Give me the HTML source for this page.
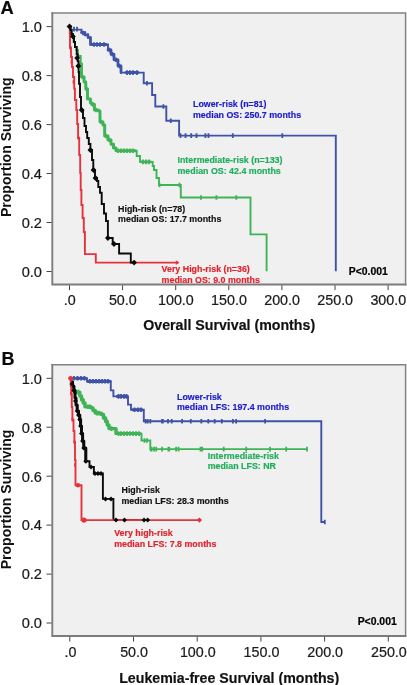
<!DOCTYPE html>
<html lang="en"><head><meta charset="utf-8"><title>Survival curves</title>
<style>
html,body{margin:0;padding:0;background:#fff;}
svg{display:block;font-family:"Liberation Sans",Arial,sans-serif;}
.c{fill:none;stroke-width:1.9;stroke-linejoin:miter;}
.t{fill:none;stroke-width:1.8;}
</style></head><body>
<svg width="407" height="685" viewBox="0 0 407 685">
<rect width="407" height="685" fill="#fff"/>
<rect x="52.3" y="13.0" width="353.3" height="271.5" fill="#f0f0f0"/>
<path d="M51.4,13.1 H405.6 V285.4" fill="none" stroke="#828282" stroke-width="1.5" stroke-linejoin="miter"/>
<path d="M52.3,12.4 V284.5 H406.3" fill="none" stroke="#7c7c7c" stroke-width="1.9" stroke-linejoin="miter"/>
<path d="M46.5,271.5 H51.5" stroke="#444" stroke-width="1"/>
<text x="42.0" y="276.8" fill="#1a1a1a" font-size="14.6" font-weight="normal" text-anchor="end" stroke="#1a1a1a" stroke-width="0.22">0.0</text>
<path d="M46.5,222.5 H51.5" stroke="#444" stroke-width="1"/>
<text x="42.0" y="227.8" fill="#1a1a1a" font-size="14.6" font-weight="normal" text-anchor="end" stroke="#1a1a1a" stroke-width="0.22">0.2</text>
<path d="M46.5,173.5 H51.5" stroke="#444" stroke-width="1"/>
<text x="42.0" y="178.8" fill="#1a1a1a" font-size="14.6" font-weight="normal" text-anchor="end" stroke="#1a1a1a" stroke-width="0.22">0.4</text>
<path d="M46.5,124.6 H51.5" stroke="#444" stroke-width="1"/>
<text x="42.0" y="129.9" fill="#1a1a1a" font-size="14.6" font-weight="normal" text-anchor="end" stroke="#1a1a1a" stroke-width="0.22">0.6</text>
<path d="M46.5,75.6 H51.5" stroke="#444" stroke-width="1"/>
<text x="42.0" y="80.9" fill="#1a1a1a" font-size="14.6" font-weight="normal" text-anchor="end" stroke="#1a1a1a" stroke-width="0.22">0.8</text>
<path d="M46.5,26.6 H51.5" stroke="#444" stroke-width="1"/>
<text x="42.0" y="31.9" fill="#1a1a1a" font-size="14.6" font-weight="normal" text-anchor="end" stroke="#1a1a1a" stroke-width="0.22">1.0</text>
<path d="M69.5,285.3 V290.1" stroke="#444" stroke-width="1"/>
<text x="69.7" y="305.3" fill="#1a1a1a" font-size="14.3" font-weight="normal" text-anchor="middle" stroke="#1a1a1a" stroke-width="0.22">.0</text>
<path d="M122.6,285.3 V290.1" stroke="#444" stroke-width="1"/>
<text x="122.8" y="305.3" fill="#1a1a1a" font-size="14.3" font-weight="normal" text-anchor="middle" stroke="#1a1a1a" stroke-width="0.22">50.0</text>
<path d="M175.7,285.3 V290.1" stroke="#444" stroke-width="1"/>
<text x="175.9" y="305.3" fill="#1a1a1a" font-size="14.3" font-weight="normal" text-anchor="middle" stroke="#1a1a1a" stroke-width="0.22">100.0</text>
<path d="M228.8,285.3 V290.1" stroke="#444" stroke-width="1"/>
<text x="229.0" y="305.3" fill="#1a1a1a" font-size="14.3" font-weight="normal" text-anchor="middle" stroke="#1a1a1a" stroke-width="0.22">150.0</text>
<path d="M281.9,285.3 V290.1" stroke="#444" stroke-width="1"/>
<text x="282.1" y="305.3" fill="#1a1a1a" font-size="14.3" font-weight="normal" text-anchor="middle" stroke="#1a1a1a" stroke-width="0.22">200.0</text>
<path d="M335.0,285.3 V290.1" stroke="#444" stroke-width="1"/>
<text x="335.2" y="305.3" fill="#1a1a1a" font-size="14.3" font-weight="normal" text-anchor="middle" stroke="#1a1a1a" stroke-width="0.22">250.0</text>
<path d="M388.1,285.3 V290.1" stroke="#444" stroke-width="1"/>
<text x="388.3" y="305.3" fill="#1a1a1a" font-size="14.3" font-weight="normal" text-anchor="middle" stroke="#1a1a1a" stroke-width="0.22">300.0</text>
<text x="229.2" y="330.2" fill="#111" font-size="14.2" font-weight="bold" text-anchor="middle" stroke="#111" stroke-width="0.18">Overall Survival (months)</text>
<text transform="translate(11.2,147.2) rotate(-90)" fill="#111" font-size="14.05" font-weight="bold" text-anchor="middle">Proportion Surviving</text>
<text x="0.6" y="13.6" fill="#0a0a0a" font-size="18.3" font-weight="bold" text-anchor="start" stroke="#0a0a0a" stroke-width="0.18">A</text>
<text x="348.8" y="274.5" fill="#000" font-size="10.4" font-weight="bold" text-anchor="start" stroke="#000" stroke-width="0.2">P&lt;0.001</text>
<rect x="52.3" y="364.6" width="353.3" height="271.4" fill="#f0f0f0"/>
<path d="M51.4,364.7 H405.6 V636.9" fill="none" stroke="#828282" stroke-width="1.5" stroke-linejoin="miter"/>
<path d="M52.3,364.0 V636.0 H406.3" fill="none" stroke="#7c7c7c" stroke-width="1.9" stroke-linejoin="miter"/>
<path d="M46.5,623.0 H51.5" stroke="#444" stroke-width="1"/>
<text x="42.0" y="628.3" fill="#1a1a1a" font-size="14.6" font-weight="normal" text-anchor="end" stroke="#1a1a1a" stroke-width="0.22">0.0</text>
<path d="M46.5,574.1 H51.5" stroke="#444" stroke-width="1"/>
<text x="42.0" y="579.4" fill="#1a1a1a" font-size="14.6" font-weight="normal" text-anchor="end" stroke="#1a1a1a" stroke-width="0.22">0.2</text>
<path d="M46.5,525.1 H51.5" stroke="#444" stroke-width="1"/>
<text x="42.0" y="530.4" fill="#1a1a1a" font-size="14.6" font-weight="normal" text-anchor="end" stroke="#1a1a1a" stroke-width="0.22">0.4</text>
<path d="M46.5,476.2 H51.5" stroke="#444" stroke-width="1"/>
<text x="42.0" y="481.5" fill="#1a1a1a" font-size="14.6" font-weight="normal" text-anchor="end" stroke="#1a1a1a" stroke-width="0.22">0.6</text>
<path d="M46.5,427.2 H51.5" stroke="#444" stroke-width="1"/>
<text x="42.0" y="432.5" fill="#1a1a1a" font-size="14.6" font-weight="normal" text-anchor="end" stroke="#1a1a1a" stroke-width="0.22">0.8</text>
<path d="M46.5,378.3 H51.5" stroke="#444" stroke-width="1"/>
<text x="42.0" y="383.6" fill="#1a1a1a" font-size="14.6" font-weight="normal" text-anchor="end" stroke="#1a1a1a" stroke-width="0.22">1.0</text>
<path d="M69.8,636.8 V641.6" stroke="#444" stroke-width="1"/>
<text x="70.4" y="656.8" fill="#1a1a1a" font-size="14.3" font-weight="normal" text-anchor="middle" stroke="#1a1a1a" stroke-width="0.22">.0</text>
<path d="M133.5,636.8 V641.6" stroke="#444" stroke-width="1"/>
<text x="134.1" y="656.8" fill="#1a1a1a" font-size="14.3" font-weight="normal" text-anchor="middle" stroke="#1a1a1a" stroke-width="0.22">50.0</text>
<path d="M197.2,636.8 V641.6" stroke="#444" stroke-width="1"/>
<text x="197.8" y="656.8" fill="#1a1a1a" font-size="14.3" font-weight="normal" text-anchor="middle" stroke="#1a1a1a" stroke-width="0.22">100.0</text>
<path d="M260.9,636.8 V641.6" stroke="#444" stroke-width="1"/>
<text x="261.5" y="656.8" fill="#1a1a1a" font-size="14.3" font-weight="normal" text-anchor="middle" stroke="#1a1a1a" stroke-width="0.22">150.0</text>
<path d="M324.6,636.8 V641.6" stroke="#444" stroke-width="1"/>
<text x="325.2" y="656.8" fill="#1a1a1a" font-size="14.3" font-weight="normal" text-anchor="middle" stroke="#1a1a1a" stroke-width="0.22">200.0</text>
<path d="M388.3,636.8 V641.6" stroke="#444" stroke-width="1"/>
<text x="388.9" y="656.8" fill="#1a1a1a" font-size="14.3" font-weight="normal" text-anchor="middle" stroke="#1a1a1a" stroke-width="0.22">250.0</text>
<text x="229.2" y="682.5" fill="#111" font-size="14.2" font-weight="bold" text-anchor="middle" stroke="#111" stroke-width="0.18">Leukemia-free Survival (months)</text>
<text transform="translate(11.2,499.5) rotate(-90)" fill="#111" font-size="14.05" font-weight="bold" text-anchor="middle">Proportion Surviving</text>
<text x="1.4" y="364.9" fill="#0a0a0a" font-size="18" font-weight="bold" text-anchor="start" stroke="#0a0a0a" stroke-width="0.18">B</text>
<text x="357.7" y="624.5" fill="#000" font-size="10.4" font-weight="bold" text-anchor="start" stroke="#000" stroke-width="0.2">P&lt;0.001</text>
<path class="c" stroke="#3f53a6" d="M69.5,26.5 H70.5 V29.6 H81.5 V32.5 H85.0 V35.0 H88.0 V37.5 H90.5 V44.5 H108.0 V50.0 H111.0 V54.3 H114.0 V59.8 H118.0 V66.0 H121.0 V72.6 H143.7 V83.2 H152.1 V95.0 H155.3 V106.5 H166.3 V120.8 H179.1 V135.6 H335.8 V271.2"/>
<path class="t" stroke="#3f53a6" d="M74.0,26.8 v4.6 M77.0,26.8 v4.6 M83.0,30.7 v4.6 M88.0,33.3 v4.6 M94.0,42.2 v4.6 M97.0,42.2 v4.6 M100.0,42.2 v4.6 M104.0,42.2 v4.6 M109.5,47.7 v4.6 M112.5,52.0 v4.6 M116.0,57.5 v4.6 M119.5,63.7 v4.6 M127.0,70.3 v4.6 M130.0,70.3 v4.6 M133.0,70.3 v4.6 M137.0,70.3 v4.6 M147.0,80.9 v4.6 M163.4,104.2 v4.6 M170.8,118.5 v4.6 M180.5,133.3 v4.6 M185.5,133.3 v4.6 M191.2,133.3 v4.6 M196.5,133.3 v4.6 M205.4,133.3 v4.6 M208.5,133.3 v4.6 M232.8,133.3 v4.6 M282.3,133.3 v4.6"/>
<path fill="none" stroke="#3f53a6" stroke-width="3.0" stroke-linejoin="round" stroke-linecap="round" d="M92.0,44.5 H106.0 V44.5"/>
<path fill="none" stroke="#3f53a6" stroke-width="3.0" stroke-linejoin="round" stroke-linecap="round" d="M126.0,72.6 H138.0 V72.6"/>
<path fill="none" stroke="#3f53a6" stroke-width="2.8" stroke-linejoin="round" stroke-linecap="round" d="M108.0,50.0 H111.0 V54.3 H114.0 V59.8 H118.0 V66.0 H121.0 V72.6"/>
<path fill="none" stroke="#3f53a6" stroke-width="2.6" stroke-linejoin="round" stroke-linecap="round" d="M81.5,32.5 H85.0 V35.0 H88.0 V37.5 H90.5 V44.5"/>
<path class="c" stroke="#3fb457" d="M69.5,26.5 H70.5 V30.0 H72.0 V36.0 H73.5 V42.0 H75.0 V47.0 H76.4 V50.0 H78.0 V56.0 H80.7 V64.0 H81.5 V77.0 H84.1 V82.0 H85.8 V89.0 H87.5 V99.0 H90.4 V103.0 H91.8 V104.5 H94.4 V110.0 H98.3 V111.0 H100.0 V122.0 H103.0 V125.0 H104.7 V136.0 H108.0 V140.0 H111.0 V144.3 H113.5 V148.0 H116.0 V150.7 H136.7 V156.0 H140.0 V161.9 H152.7 V166.0 H154.0 V170.0 H156.5 V178.0 H159.0 V185.0 H180.8 V197.5 H250.5 V234.4 H266.6 V271.2"/>
<path class="t" stroke="#3fb457" d="M82.5,74.7 v4.6 M86.5,86.7 v4.6 M93.0,102.2 v4.6 M96.0,107.7 v4.6 M101.5,119.7 v4.6 M106.0,133.7 v4.6 M109.5,137.7 v4.6 M118.0,148.4 v4.6 M121.0,148.4 v4.6 M124.0,148.4 v4.6 M127.0,148.4 v4.6 M130.0,148.4 v4.6 M133.0,148.4 v4.6 M143.0,159.6 v4.6 M146.0,159.6 v4.6 M149.0,159.6 v4.6 M159.5,182.7 v4.6 M179.5,182.7 v4.6 M201.0,195.2 v4.6 M216.4,195.2 v4.6 M236.3,195.2 v4.6"/>
<path fill="none" stroke="#3fb457" stroke-width="2.9" stroke-linejoin="round" stroke-linecap="round" d="M80.7,64.0 H81.5 V77.0 H84.1 V82.0 H85.8 V89.0 H87.5 V99.0 H90.4 V103.0 H91.8 V104.5 H94.4 V110.0 H98.3 V111.0 H100.0 V122.0 H103.0 V125.0 H104.7 V136.0 H108.0 V140.0 H111.0 V144.3 H113.5 V148.0 H116.0 V150.7"/>
<path fill="none" stroke="#3fb457" stroke-width="3.0" stroke-linejoin="round" stroke-linecap="round" d="M117.0,150.7 H135.0 V150.7"/>
<path fill="none" stroke="#3fb457" stroke-width="2.8" stroke-linejoin="round" stroke-linecap="round" d="M141.5,161.9 H150.5 V161.9"/>
<path class="c" stroke="#e6323c" stroke-width="1.65" d="M69.5,26.5 H69.8 V33.0 H70.0 V47.5 H71.0 V57.0 H72.0 V67.0 H73.0 V77.0 H74.2 V88.8 H74.9 V100.0 H76.3 V110.0 H77.2 V124.0 H78.1 V138.0 H79.2 V155.0 H80.2 V173.0 H80.7 V190.0 H81.4 V205.0 H82.6 V218.0 H83.8 V232.0 H84.9 V254.1 H95.8 V262.6 H178.5"/>
<path class="t" stroke="#e6323c" d="M70.0,45.7 v3.6 M71.5,60.2 v3.6 M73.5,80.2 v3.6 M78.5,136.2 v3.6"/>
<path fill="#e6323c" d="M175.8,260.2 L179.3,262.6 L175.8,265 Z"/>
<path class="c" stroke="#0a0a0a" d="M69.5,26.5 H70.5 V30.0 H71.5 V34.0 H72.9 V36.4 H74.0 V42.0 H75.0 V47.0 H76.7 V54.4 H77.7 V61.3 H78.6 V72.0 H79.0 V83.7 H80.0 V97.0 H81.0 V110.0 H83.0 V118.0 H84.5 V126.0 H86.0 V132.0 H87.2 V138.0 H88.8 V144.0 H90.4 V150.0 H92.0 V160.0 H93.3 V170.0 H95.0 V178.0 H97.0 V181.0 H98.3 V187.0 H100.0 V192.8 H101.7 V204.0 H104.0 V213.5 H106.0 V221.0 H107.9 V238.0 H112.7 V244.0 H119.1 V253.5 H130.8 V262.6 H134.1"/>
<path fill="#0a0a0a" d="M69.5,23.6 l2.9,2.9 l-2.9,2.9 l-2.9,-2.9 Z M72.9,33.5 l2.9,2.9 l-2.9,2.9 l-2.9,-2.9 Z M77.2,55.1 l2.9,2.9 l-2.9,2.9 l-2.9,-2.9 Z M78.3,63.1 l2.9,2.9 l-2.9,2.9 l-2.9,-2.9 Z M81.7,107.1 l2.9,2.9 l-2.9,2.9 l-2.9,-2.9 Z M90.4,147.1 l2.9,2.9 l-2.9,2.9 l-2.9,-2.9 Z M93.5,167.1 l2.9,2.9 l-2.9,2.9 l-2.9,-2.9 Z M95.5,175.1 l2.9,2.9 l-2.9,2.9 l-2.9,-2.9 Z M107.9,235.1 l2.9,2.9 l-2.9,2.9 l-2.9,-2.9 Z M114.0,241.1 l2.9,2.9 l-2.9,2.9 l-2.9,-2.9 Z M134.1,259.7 l2.9,2.9 l-2.9,2.9 l-2.9,-2.9 Z"/>
<path class="c" stroke="#3f53a6" d="M70.3,378.3 H87.0 V381.3 H110.8 V390.4 H113.4 V396.4 H128.0 V404.6 H131.0 V409.7 H143.8 V421.3 H321.3 V522.0 H324.8"/>
<path class="t" stroke="#3f53a6" d="M74.0,376.0 v4.6 M77.5,376.0 v4.6 M81.0,376.0 v4.6 M84.5,376.0 v4.6 M90.0,379.0 v4.6 M93.0,379.0 v4.6 M96.0,379.0 v4.6 M99.0,379.0 v4.6 M102.0,379.0 v4.6 M105.0,379.0 v4.6 M108.0,379.0 v4.6 M118.5,394.1 v4.6 M121.0,394.1 v4.6 M124.0,394.1 v4.6 M126.5,394.1 v4.6 M134.5,407.4 v4.6 M138.0,407.4 v4.6 M141.0,407.4 v4.6 M145.6,419.0 v4.6 M147.7,419.0 v4.6 M150.3,419.0 v4.6 M162.0,419.0 v4.6 M162.8,419.0 v4.6 M168.0,419.0 v4.6 M171.7,419.0 v4.6 M182.1,419.0 v4.6 M190.8,419.0 v4.6 M201.3,419.0 v4.6 M208.3,419.0 v4.6 M214.7,419.0 v4.6 M221.8,419.0 v4.6 M232.9,419.0 v4.6 M236.1,419.0 v4.6 M265.1,419.0 v4.6 M324.8,519.7 v4.6"/>
<path fill="none" stroke="#3f53a6" stroke-width="3.2" stroke-linejoin="round" stroke-linecap="round" d="M76.5,378.3 H79.0 V378.3"/>
<path fill="none" stroke="#3f53a6" stroke-width="3.2" stroke-linejoin="round" stroke-linecap="round" d="M82.5,378.3 H85.0 V378.3"/>
<path fill="none" stroke="#3f53a6" stroke-width="3.2" stroke-linejoin="round" stroke-linecap="round" d="M88.0,381.3 H109.5 V381.3"/>
<path fill="none" stroke="#3f53a6" stroke-width="3.2" stroke-linejoin="round" stroke-linecap="round" d="M117.5,396.4 H127.0 V396.4"/>
<path fill="none" stroke="#3f53a6" stroke-width="3.0" stroke-linejoin="round" stroke-linecap="round" d="M133.0,409.7 H142.0 V409.7"/>
<path class="c" stroke="#3fb457" d="M70.3,378.3 H71.3 V382.0 H72.9 V387.0 H74.6 V392.1 H79.8 V396.0 H81.5 V399.8 H83.2 V403.0 H85.0 V406.7 H91.0 V407.9 H93.0 V410.5 H95.3 V413.1 H101.3 V414.5 H103.5 V418.0 H105.6 V421.4 H107.3 V425.0 H109.0 V428.6 H116.0 V433.6 H141.5 V440.5 H150.3 V449.1 H307.0"/>
<path class="t" stroke="#3fb457" d="M76.5,389.8 v4.6 M78.5,389.8 v4.6 M82.5,397.5 v4.6 M88.0,404.4 v4.6 M90.0,404.4 v4.6 M97.0,410.8 v4.6 M99.0,410.8 v4.6 M104.5,415.7 v4.6 M106.5,419.1 v4.6 M108.2,422.7 v4.6 M111.5,426.3 v4.6 M118.5,431.3 v4.6 M121.0,431.3 v4.6 M124.0,431.3 v4.6 M127.0,431.3 v4.6 M130.0,431.3 v4.6 M133.0,431.3 v4.6 M136.0,431.3 v4.6 M139.0,431.3 v4.6 M144.5,438.2 v4.6 M147.0,438.2 v4.6 M150.8,446.8 v4.6 M151.6,446.8 v4.6 M154.0,446.8 v4.6 M156.2,446.8 v4.6 M162.1,446.8 v4.6 M168.4,446.8 v4.6 M169.2,446.8 v4.6 M176.1,446.8 v4.6 M178.6,446.8 v4.6 M200.5,446.8 v4.6 M202.2,446.8 v4.6 M223.7,446.8 v4.6 M246.2,446.8 v4.6 M270.0,446.8 v4.6 M286.2,446.8 v4.6 M307.0,446.8 v4.6"/>
<path fill="none" stroke="#3fb457" stroke-width="3.4" stroke-linejoin="round" stroke-linecap="round" d="M74.6,392.1 H79.8 V396.0 H81.5 V399.8 H83.2 V403.0 H85.0 V406.7 H91.0 V407.9 H93.0 V410.5 H95.3 V413.1 H101.3 V414.5 H103.5 V418.0 H105.6 V421.4 H107.3 V425.0 H109.0 V428.6 H116.0 V433.6"/>
<path fill="none" stroke="#3fb457" stroke-width="3.0" stroke-linejoin="round" stroke-linecap="round" d="M117.0,433.6 H140.0 V433.6"/>
<path class="c" stroke="#0a0a0a" d="M70.3,378.3 H71.3 V382.0 H72.5 V386.0 H73.8 V390.4 H75.0 V398.0 H76.0 V405.0 H77.2 V411.0 H78.5 V415.0 H79.8 V419.6 H80.6 V426.0 H81.5 V433.4 H82.6 V441.0 H83.8 V448.0 H85.8 V461.3 H89.5 V466.9 H93.9 V473.5 H102.9 V498.9 H113.4 V520.1 H148.5"/>
<path fill="none" stroke="#0a0a0a" stroke-width="3.0" stroke-linejoin="round" stroke-linecap="round" d="M71.3,382.0 H72.5 V386.0 H73.8 V390.4 H75.0 V398.0 H76.0 V405.0 H77.2 V411.0 H78.5 V415.0 H79.8 V419.6 H80.6 V426.0 H81.5 V433.4 H82.6 V441.0 H83.8 V448.0 H85.8 V461.3"/>
<path class="c" stroke="#e6323c" d="M70.3,378.3 H70.8 V386.0 H71.2 V393.8 H71.8 V407.0 H72.4 V419.6 H73.5 V431.0 H74.4 V442.0 H75.0 V460.0 H75.5 V485.3 H81.5 V520.1 H200.3"/>
<path class="t" stroke="#e6323c" d="M71.2,392.0 v3.6 M72.4,417.8 v3.6 M74.4,440.2 v3.6 M75.0,463.2 v3.6"/>
<path fill="#e6323c" d="M199.4,517.5 L202,520.1 L199.4,522.7 L196.8,520.1 Z"/>
<circle cx="84" cy="520.1" r="2.6" fill="#e6323c"/>
<circle cx="78" cy="485.3" r="2.2" fill="#e6323c"/>
<path fill="#0a0a0a" d="M105.5,496.4 l2.5,2.5 l-2.5,2.5 l-2.5,-2.5 Z M111.0,496.4 l2.5,2.5 l-2.5,2.5 l-2.5,-2.5 Z M72.0,381.5 l2.5,2.5 l-2.5,2.5 l-2.5,-2.5 Z M73.8,387.9 l2.5,2.5 l-2.5,2.5 l-2.5,-2.5 Z M75.5,398.5 l2.5,2.5 l-2.5,2.5 l-2.5,-2.5 Z M77.2,408.5 l2.5,2.5 l-2.5,2.5 l-2.5,-2.5 Z M78.5,412.5 l2.5,2.5 l-2.5,2.5 l-2.5,-2.5 Z M79.8,417.1 l2.5,2.5 l-2.5,2.5 l-2.5,-2.5 Z M80.6,423.5 l2.5,2.5 l-2.5,2.5 l-2.5,-2.5 Z M81.5,430.9 l2.5,2.5 l-2.5,2.5 l-2.5,-2.5 Z M82.6,438.5 l2.5,2.5 l-2.5,2.5 l-2.5,-2.5 Z M83.8,445.5 l2.5,2.5 l-2.5,2.5 l-2.5,-2.5 Z M85.8,458.8 l2.5,2.5 l-2.5,2.5 l-2.5,-2.5 Z M91.0,464.4 l2.5,2.5 l-2.5,2.5 l-2.5,-2.5 Z M95.0,471.0 l2.5,2.5 l-2.5,2.5 l-2.5,-2.5 Z M98.0,471.0 l2.5,2.5 l-2.5,2.5 l-2.5,-2.5 Z M101.0,471.0 l2.5,2.5 l-2.5,2.5 l-2.5,-2.5 Z M116.0,517.6 l2.5,2.5 l-2.5,2.5 l-2.5,-2.5 Z M124.5,517.6 l2.5,2.5 l-2.5,2.5 l-2.5,-2.5 Z M144.0,517.6 l2.5,2.5 l-2.5,2.5 l-2.5,-2.5 Z M147.7,517.6 l2.5,2.5 l-2.5,2.5 l-2.5,-2.5 Z"/>
<circle cx="70.6" cy="378.3" r="2.4" fill="#e6323c"/>
<text x="193.0" y="107.1" fill="#1c1ccc" font-size="8.85" font-weight="bold" text-anchor="start" stroke="#1c1ccc" stroke-width="0.18">Lower-risk (n=81)</text>
<text x="193.0" y="117.6" fill="#1c1ccc" font-size="8.85" font-weight="bold" text-anchor="start" stroke="#1c1ccc" stroke-width="0.18">median OS: 250.7 months</text>
<text x="177.5" y="163.4" fill="#1fae5c" font-size="8.85" font-weight="bold" text-anchor="start" stroke="#1fae5c" stroke-width="0.18">Intermediate-risk (n=133)</text>
<text x="177.5" y="174.0" fill="#1fae5c" font-size="8.85" font-weight="bold" text-anchor="start" stroke="#1fae5c" stroke-width="0.18">median OS: 42.4 months</text>
<text x="118.1" y="211.6" fill="#141414" font-size="8.85" font-weight="bold" text-anchor="start" stroke="#141414" stroke-width="0.18">High-risk (n=78)</text>
<text x="118.1" y="221.9" fill="#141414" font-size="8.85" font-weight="bold" text-anchor="start" stroke="#141414" stroke-width="0.18">median OS: 17.7 months</text>
<text x="161.6" y="271.5" fill="#e0232e" font-size="8.85" font-weight="bold" text-anchor="start" stroke="#e0232e" stroke-width="0.18">Very High-risk (n=36)</text>
<text x="161.6" y="282.7" fill="#e0232e" font-size="8.85" font-weight="bold" text-anchor="start" stroke="#e0232e" stroke-width="0.18">median OS: 9.0 months</text>
<text x="177.0" y="400.0" fill="#1c1ccc" font-size="8.85" font-weight="bold" text-anchor="start" stroke="#1c1ccc" stroke-width="0.18">Lower-risk</text>
<text x="177.0" y="410.2" fill="#1c1ccc" font-size="8.85" font-weight="bold" text-anchor="start" stroke="#1c1ccc" stroke-width="0.18">median LFS: 197.4 months</text>
<text x="207.7" y="458.8" fill="#1fae5c" font-size="8.85" font-weight="bold" text-anchor="start" stroke="#1fae5c" stroke-width="0.18">Intermediate-risk</text>
<text x="207.7" y="468.9" fill="#1fae5c" font-size="8.85" font-weight="bold" text-anchor="start" stroke="#1fae5c" stroke-width="0.18">median LFS: NR</text>
<text x="121.5" y="493.4" fill="#141414" font-size="8.85" font-weight="bold" text-anchor="start" stroke="#141414" stroke-width="0.18">High-risk</text>
<text x="121.5" y="503.7" fill="#141414" font-size="8.85" font-weight="bold" text-anchor="start" stroke="#141414" stroke-width="0.18">median LFS: 28.3 months</text>
<text x="114.2" y="536.3" fill="#e0232e" font-size="8.85" font-weight="bold" text-anchor="start" stroke="#e0232e" stroke-width="0.18">Very high-risk</text>
<text x="114.2" y="546.6" fill="#e0232e" font-size="8.85" font-weight="bold" text-anchor="start" stroke="#e0232e" stroke-width="0.18">median LFS: 7.8 months</text>
</svg></body></html>
